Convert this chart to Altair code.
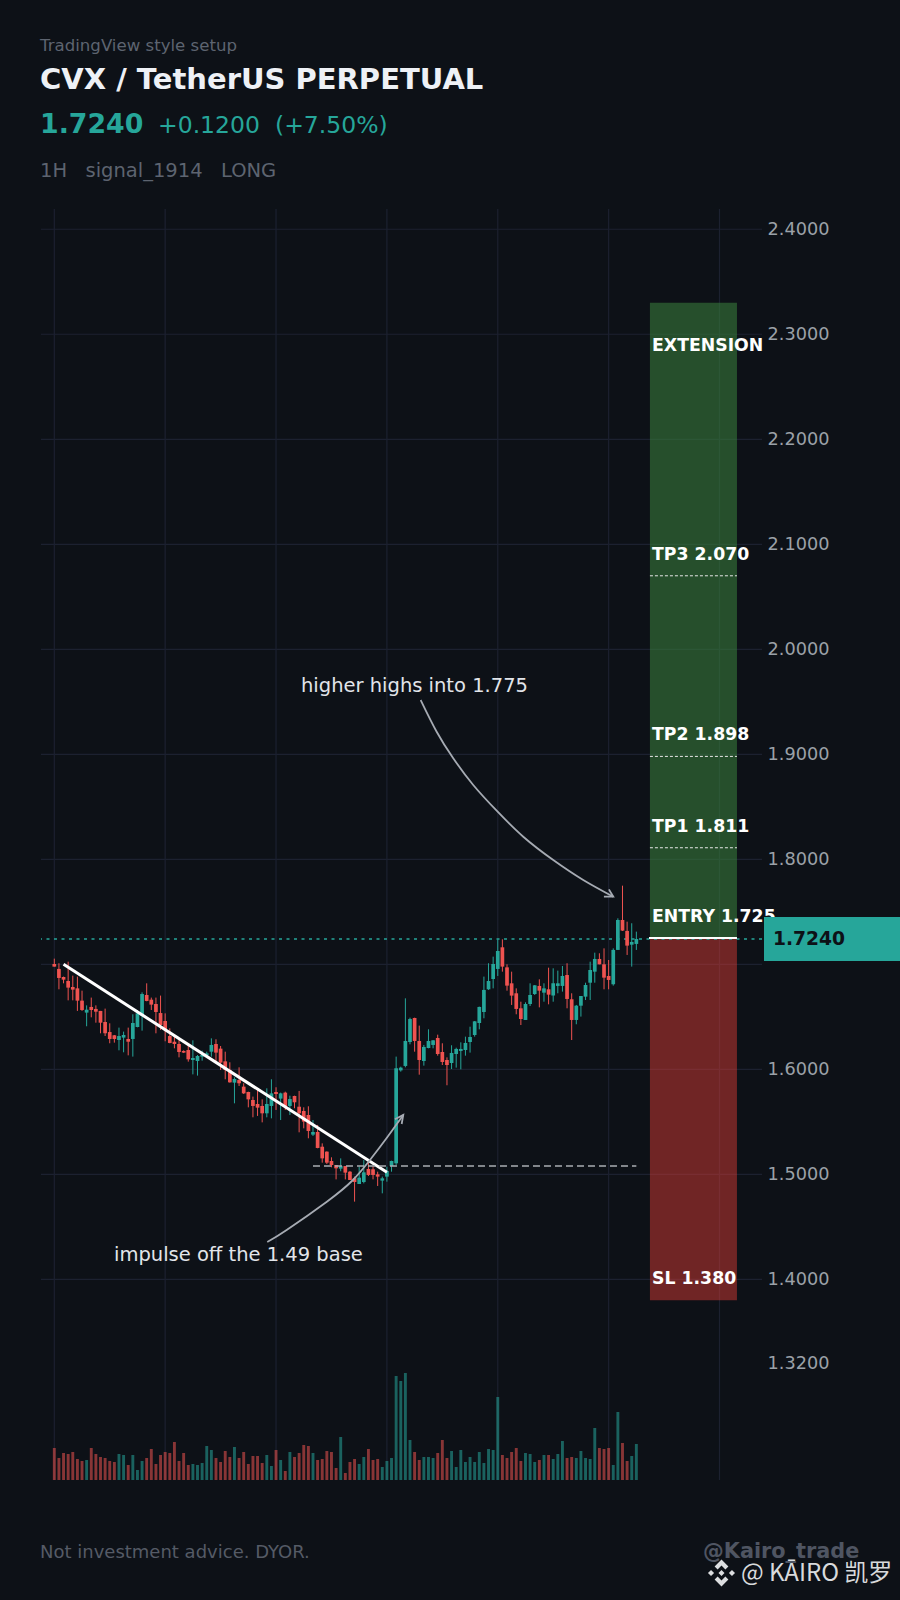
import altair as alt
import pandas as pd

BG = "#0d1117"
TEAL = "#26a69a"
RED = "#ef5350"
GRID = "#1c2130"
FONT = "DejaVu Sans"

opens = [1.7003,1.6956,1.6879,1.6841,1.6784,1.6771,1.6654,1.6540,1.6594,1.6575,1.6556,1.6451,1.6355,1.6324,1.6279,1.6302,1.6289,1.6289,1.6403,1.6508,
1.6708,1.6663,1.6622,1.6536,1.6460,1.6317,1.6263,1.6241,1.6175,1.6184,1.6089,1.6079,1.6121,1.6133,1.6168,1.6241,1.6197,1.6076,1.5994,1.5873,
1.5898,1.5835,1.5784,1.5708,1.5670,1.5651,1.5581,1.5651,1.5784,1.5721,1.5778,1.5651,1.5746,1.5644,1.5603,1.5565,1.5378,1.5403,1.5263,1.5216,
1.5127,1.5089,1.5054,1.5079,1.5025,1.4962,1.4908,1.4927,1.5051,1.5048,1.5000,1.4940,1.4978,1.5079,1.5105,1.5990,1.6032,1.6260,1.6489,1.6270,
1.6079,1.6203,1.6232,1.6298,1.6165,1.6089,1.6060,1.6146,1.6175,1.6184,1.6260,1.6327,1.6441,1.6546,1.6762,1.6860,1.6956,1.7162,1.6971,1.6819,
1.6724,1.6581,1.6470,1.6622,1.6717,1.6794,1.6730,1.6762,1.6702,1.6794,1.6794,1.6898,1.6667,1.6470,1.6606,1.6692,1.6825,1.6930,1.7051,1.7000,
1.6889,1.6810,1.7137,1.7422,1.7318,1.7187,1.7194]
closes = [1.6978,1.6870,1.6854,1.6778,1.6759,1.6654,1.6565,1.6568,1.6565,1.6549,1.6444,1.6343,1.6289,1.6289,1.6317,1.6327,1.6263,1.6441,1.6533,1.6717,
1.6651,1.6616,1.6546,1.6422,1.6375,1.6251,1.6241,1.6165,1.6159,1.6095,1.6108,1.6127,1.6136,1.6152,1.6232,1.6159,1.6064,1.5994,1.5876,1.5908,
1.5867,1.5771,1.5714,1.5651,1.5635,1.5581,1.5670,1.5771,1.5765,1.5771,1.5644,1.5717,1.5686,1.5581,1.5502,1.5413,1.5403,1.5251,1.5152,1.5111,
1.5089,1.5057,1.5079,1.5016,1.4946,1.4927,1.4968,1.5019,1.4994,1.4994,1.4978,1.4962,1.5032,1.5127,1.6010,1.6016,1.6270,1.6479,1.6270,1.6089,
1.6213,1.6270,1.6276,1.6146,1.6070,1.6041,1.6156,1.6194,1.6194,1.6251,1.6308,1.6457,1.6594,1.6756,1.6841,1.7003,1.7127,1.6978,1.6797,1.6702,
1.6575,1.6479,1.6622,1.6708,1.6800,1.6749,1.6771,1.6711,1.6819,1.6819,1.6889,1.6670,1.6470,1.6606,1.6698,1.6803,1.6946,1.7051,1.7000,1.6873,
1.6851,1.7137,1.7422,1.7321,1.7178,1.7213,1.7241]
highs = [1.7054,1.7010,1.6883,1.7025,1.6892,1.6883,1.6749,1.6609,1.6683,1.6609,1.6556,1.6578,1.6438,1.6327,1.6397,1.6359,1.6397,1.6524,1.6565,1.6733,
1.6819,1.6683,1.6683,1.6702,1.6533,1.6390,1.6317,1.6279,1.6181,1.6232,1.6276,1.6136,1.6178,1.6168,1.6295,1.6286,1.6222,1.6168,1.6067,1.5924,
1.6019,1.5867,1.5787,1.5740,1.5803,1.5714,1.5819,1.5905,1.5829,1.5778,1.5787,1.5749,1.5749,1.5794,1.5638,1.5648,1.5517,1.5470,1.5295,1.5219,
1.5162,1.5089,1.5152,1.5079,1.5032,1.4978,1.5073,1.5136,1.5130,1.5073,1.5025,1.4978,1.5073,1.5130,1.6121,1.6025,1.6676,1.6492,1.6492,1.6416,
1.6232,1.6381,1.6279,1.6330,1.6248,1.6114,1.6229,1.6206,1.6257,1.6311,1.6406,1.6460,1.6597,1.6883,1.7010,1.7073,1.7238,1.7238,1.7000,1.6930,
1.6771,1.6644,1.6638,1.6819,1.6803,1.6857,1.6819,1.6968,1.6962,1.6940,1.6984,1.7010,1.6724,1.6613,1.6698,1.6825,1.7025,1.7111,1.7105,1.7152,
1.7041,1.7152,1.7438,1.7749,1.7406,1.7391,1.7311]
lows = [1.6978,1.6762,1.6819,1.6657,1.6657,1.6556,1.6556,1.6410,1.6495,1.6444,1.6343,1.6317,1.6248,1.6254,1.6181,1.6162,1.6133,1.6121,1.6400,1.6368,
1.6648,1.6565,1.6343,1.6375,1.6267,1.6248,1.6200,1.6114,1.6155,1.6073,1.5952,1.5940,1.6082,1.6121,1.6121,1.6073,1.5994,1.5905,1.5873,1.5676,
1.5841,1.5765,1.5638,1.5543,1.5556,1.5495,1.5543,1.5533,1.5613,1.5517,1.5613,1.5565,1.5629,1.5400,1.5438,1.5343,1.5365,1.5248,1.5111,1.5098,
1.5067,1.4952,1.5029,1.4952,1.4946,1.4740,1.4908,1.4914,1.4984,1.4952,1.4889,1.4819,1.4930,1.5025,1.5089,1.5978,1.6019,1.6238,1.6168,1.5949,
1.6035,1.6200,1.6200,1.6130,1.6041,1.5848,1.6003,1.6016,1.6000,1.6130,1.6159,1.6311,1.6381,1.6486,1.6756,1.6771,1.6889,1.6930,1.6749,1.6613,
1.6524,1.6422,1.6470,1.6603,1.6708,1.6590,1.6644,1.6619,1.6644,1.6724,1.6740,1.6581,1.6279,1.6429,1.6502,1.6660,1.6660,1.6825,1.7000,1.6762,
1.6762,1.6797,1.7137,1.7318,1.7089,1.6978,1.7137]
volumes = [96,66,81,78,84,63,57,60,96,78,69,66,57,54,78,75,45,75,30,57,66,93,48,75,84,81,114,57,81,45,48,45,51,102,90,66,54,87,69,99,
66,84,48,72,72,51,75,42,90,60,27,84,69,81,105,102,81,60,63,87,84,36,129,21,54,63,48,69,93,60,63,39,57,66,312,297,321,120,84,60,
69,69,66,81,120,66,87,39,90,54,69,54,84,51,93,90,249,75,66,84,96,57,81,78,54,60,75,75,63,78,117,66,69,66,87,66,63,156,96,93,
96,45,204,111,57,72,108]

price_ticks = [1.32, 1.4, 1.5, 1.6, 1.8, 1.9, 2.0, 2.1, 2.2, 2.3, 2.4]
h_grid = [1.4, 1.5, 1.6, 1.7, 1.8, 1.9, 2.0, 2.1, 2.2, 2.3, 2.4]
v_grid = [0, 24, 48, 72, 96, 120, 144]

zone_left, zone_right = 128.94, 147.78
entry, stop, ext = 1.725, 1.38, 2.33
tp_levels = [2.07, 1.898, 1.811]
last_price = 1.724
support_level = 1.508
trend_i = [2, 72]
trend_p = [1.70, 1.5019]

arrow1_i = [79.31, 82.77, 86.36, 90.69, 95.76, 101.52, 108.01, 114.50, 121.0]
arrow1_p = [1.9517, 1.9215, 1.8962, 1.8708, 1.8463, 1.8215, 1.7993, 1.7803, 1.7644]
arrow1_head_i = [118.98, 121.0, 120.06]
arrow1_head_p = [1.7644, 1.7644, 1.7714]
arrow2_i = [46.1, 50.3, 59.0, 64.65, 68.33, 71.95, 75.54]
arrow2_p = [1.4355, 1.4470, 1.4739, 1.4946, 1.5136, 1.5346, 1.5565]
arrow2_head_i = [73.74, 75.54, 75.2]
arrow2_head_p = [1.5524, 1.5565, 1.5479]

zone_labels = ["EXTENSION", "TP3 2.070", "TP2 1.898", "TP1 1.811", "ENTRY 1.725", "SL 1.380"]
zone_label_p = [2.33, 2.07, 1.898, 1.811, 1.725, 1.38]
zone_label_dy = [43, -21, -21.5, -21, -21, -21.5]

I_DOMAIN = [-2.88, 153.2]
P_DOMAIN = [1.2089, 2.4193]
V_DOMAIN = [0, 3813]

X = lambda f: alt.X(f, type="quantitative", scale=alt.Scale(domain=I_DOMAIN, nice=False, zero=False, padding=0), axis=None)
Y = lambda f: alt.Y(f, type="quantitative", scale=alt.Scale(domain=P_DOMAIN, nice=False, zero=False, padding=0), axis=None)

df = pd.DataFrame({"i": range(len(opens)), "o": opens, "c": closes, "h": highs, "l": lows, "v": volumes})
df["up"] = df.c >= df.o
col = alt.Color("up:N", scale=alt.Scale(domain=[True, False], range=[TEAL, RED]), legend=None)

grid_h = alt.Chart(pd.DataFrame({"p": h_grid})).mark_rule(color=GRID, strokeWidth=1.2).encode(y=Y("p"))
grid_v = alt.Chart(pd.DataFrame({"i": v_grid})).mark_rule(color=GRID, strokeWidth=1.2).encode(x=X("i"))

axis_layer = alt.Chart(pd.DataFrame({"p": price_ticks})).mark_point(opacity=0).encode(
    y=alt.Y("p:Q", scale=alt.Scale(domain=P_DOMAIN, nice=False, zero=False, padding=0),
            axis=alt.Axis(orient="right", values=price_ticks, format=".4f", title=None, domain=False,
                          ticks=False, grid=False, labelPadding=5, labelFontSize=17.7, labelFont=FONT,
                          labelColor="#9ba1a8", labelOverlap=False, labelFlush=False))
)

vol = alt.Chart(df).mark_bar(size=2.9, opacity=0.55).encode(
    x=X("i"),
    y=alt.Y("v:Q", scale=alt.Scale(domain=V_DOMAIN, nice=False, padding=0), axis=None),
    color=col,
)

zones = pd.DataFrame({"x": [zone_left] * 2, "x2": [zone_right] * 2, "a": [entry, stop], "b": [ext, entry],
                      "z": ["g", "r"]})
zone_g = alt.Chart(zones[zones.z == "g"]).mark_rect(color="#377a3a", opacity=0.6).encode(x=X("x"), x2="x2", y=Y("a"), y2="b")
zone_r = alt.Chart(zones[zones.z == "r"]).mark_rect(color="#d33933", opacity=0.5).encode(x=X("x"), x2="x2", y=Y("a"), y2="b")

price_line = alt.Chart(pd.DataFrame({"p": [last_price]})).mark_rule(color=TEAL, strokeWidth=1.5, strokeDash=[3, 4.5]).encode(y=Y("p"))

tp_df = pd.DataFrame({"p": tp_levels, "x": [zone_left] * 3, "x2": [zone_right] * 3})
tp_lines = alt.Chart(tp_df).mark_rule(color="#e8e8e8", strokeWidth=1, strokeDash=[3, 2]).encode(x=X("x"), x2="x2", y=Y("p"))
entry_line = alt.Chart(pd.DataFrame({"p": [entry], "x": [zone_left - 0.2], "x2": [zone_right]})).mark_rule(
    color="#ffffff", strokeWidth=2).encode(x=X("x"), x2="x2", y=Y("p"))

wicks = alt.Chart(df).mark_rule(strokeWidth=1).encode(x=X("i"), y=Y("l"), y2="h", color=col)
bodies = alt.Chart(df).mark_bar(size=3.7, orient="vertical").encode(x=X("i"), y=Y("o"), y2="c", color=col)

trend = alt.Chart(pd.DataFrame({"i": trend_i, "p": trend_p})).mark_line(color="#ffffff", strokeWidth=3).encode(x=X("i"), y=Y("p"))
support = alt.Chart(pd.DataFrame({"i": [56, 126], "p": [support_level] * 2})).mark_line(
    color="#a9adb3", strokeWidth=1.6, strokeDash=[7, 4]).encode(x=X("i"), y=Y("p"))


def curve(xs, ys):
    return alt.Chart(pd.DataFrame({"i": xs, "p": ys})).mark_line(
        color="#a6abb3", strokeWidth=1.8, interpolate="natural").encode(x=X("i"), y=Y("p"))


def head(xs, ys):
    return alt.Chart(pd.DataFrame({"i": xs, "p": ys, "n": range(3)})).mark_line(
        color="#a6abb3", strokeWidth=1.8).encode(x=X("i"), y=Y("p"), order="n:Q")


zone_text_layers = []
for t, p, dy in zip(zone_labels, zone_label_p, zone_label_dy):
    zone_text_layers.append(
        alt.Chart(pd.DataFrame({"t": [t], "p": [p], "i": [129.4]})).mark_text(
            align="left", baseline="middle", font=FONT, fontWeight="bold", fontSize=17.3, color="#ffffff", dy=dy
        ).encode(x=X("i"), y=Y("p"), text="t:N")
    )


def label(t, x, y, size, color, weight="normal", font=FONT, align="left"):
    """Header, footer and badge text, placed relative to the plot area."""
    return alt.Chart(pd.DataFrame({"t": [t]})).mark_text(
        align=align, baseline="middle", font=font, fontWeight=weight, fontSize=size, color=color
    ).encode(x=alt.value(x - 41), y=alt.value(y - 209), text="t:N")


badge = alt.Chart(pd.DataFrame({"a": [0]})).mark_rect(color=TEAL).encode(
    x=alt.value(764 - 41), x2=alt.value(900 - 41), y=alt.value(917 - 209), y2=alt.value(961 - 209))

LOGO = ("M0,-0.22L0.22,0L0,0.22L-0.22,0Z"
        "M-0.98,0L-0.76,-0.22L-0.54,0L-0.76,0.22Z"
        "M0.98,0L0.76,-0.22L0.54,0L0.76,0.22Z"
        "M0,-0.98L0.5,-0.48L0.28,-0.26L0,-0.54L-0.28,-0.26L-0.5,-0.48Z"
        "M0,0.98L0.5,0.48L0.28,0.26L0,0.54L-0.28,0.26L-0.5,0.48Z")
logo = alt.Chart(pd.DataFrame({"a": [0]})).mark_point(shape=LOGO, filled=True, size=760, color="#dcdee0", opacity=1).encode(
    x=alt.value(721.5 - 41), y=alt.value(1573 - 209))

chart = alt.layer(
    grid_h, grid_v, axis_layer, vol, zone_g, zone_r, price_line, tp_lines, entry_line, wicks, bodies,
    trend, support,
    curve(arrow1_i, arrow1_p), head(arrow1_head_i, arrow1_head_p),
    curve(arrow2_i, arrow2_p), head(arrow2_head_i, arrow2_head_p),
    *zone_text_layers,
    label("higher highs into 1.775", 301, 686, 19.5, "#e2e5ea"),
    label("impulse off the 1.49 base", 114, 1255, 19.5, "#e2e5ea"),
    badge,
    label("1.7240", 773, 938.5, 18.7, "#0d1117", "bold"),
    label("TradingView style setup", 40, 45.5, 16.6, "#5d6470"),
    label("CVX / TetherUS PERPETUAL", 40, 79.5, 29, "#eef1f6", "bold"),
    label("1.7240", 40, 125, 26.8, TEAL, "bold"),
    label("+0.1200", 158, 125.5, 23.5, TEAL),
    label("(+7.50%)", 275, 125.5, 23.5, TEAL),
    label("1H", 40, 171, 19.5, "#5d6470"),
    label("signal_1914", 85.5, 171, 19.5, "#5d6470"),
    label("LONG", 221, 171, 19.5, "#5d6470"),
    label("Not investment advice. DYOR.", 40, 1553, 18, "#555b66"),
    label("@Kairo_trade", 703, 1552, 20.8, "#4f5562", "bold"),
    logo,
    label("@ KĀIRO 凯罗", 741, 1574, 24, "#d8dadc", font="Noto Sans CJK SC"),
).resolve_scale(y="independent").properties(
    width=721, height=1271,
    padding={"left": 41, "top": 209, "right": 138, "bottom": 120},
    autosize=alt.AutoSizeParams(type="none"),
    background=BG,
).configure_view(stroke=None)

chart.save("out.html", embed_options={"renderer": "svg", "actions": False,
                                      "defaultStyle": "html,body{margin:0;padding:0;background:#0d1117;overflow:hidden}"})
